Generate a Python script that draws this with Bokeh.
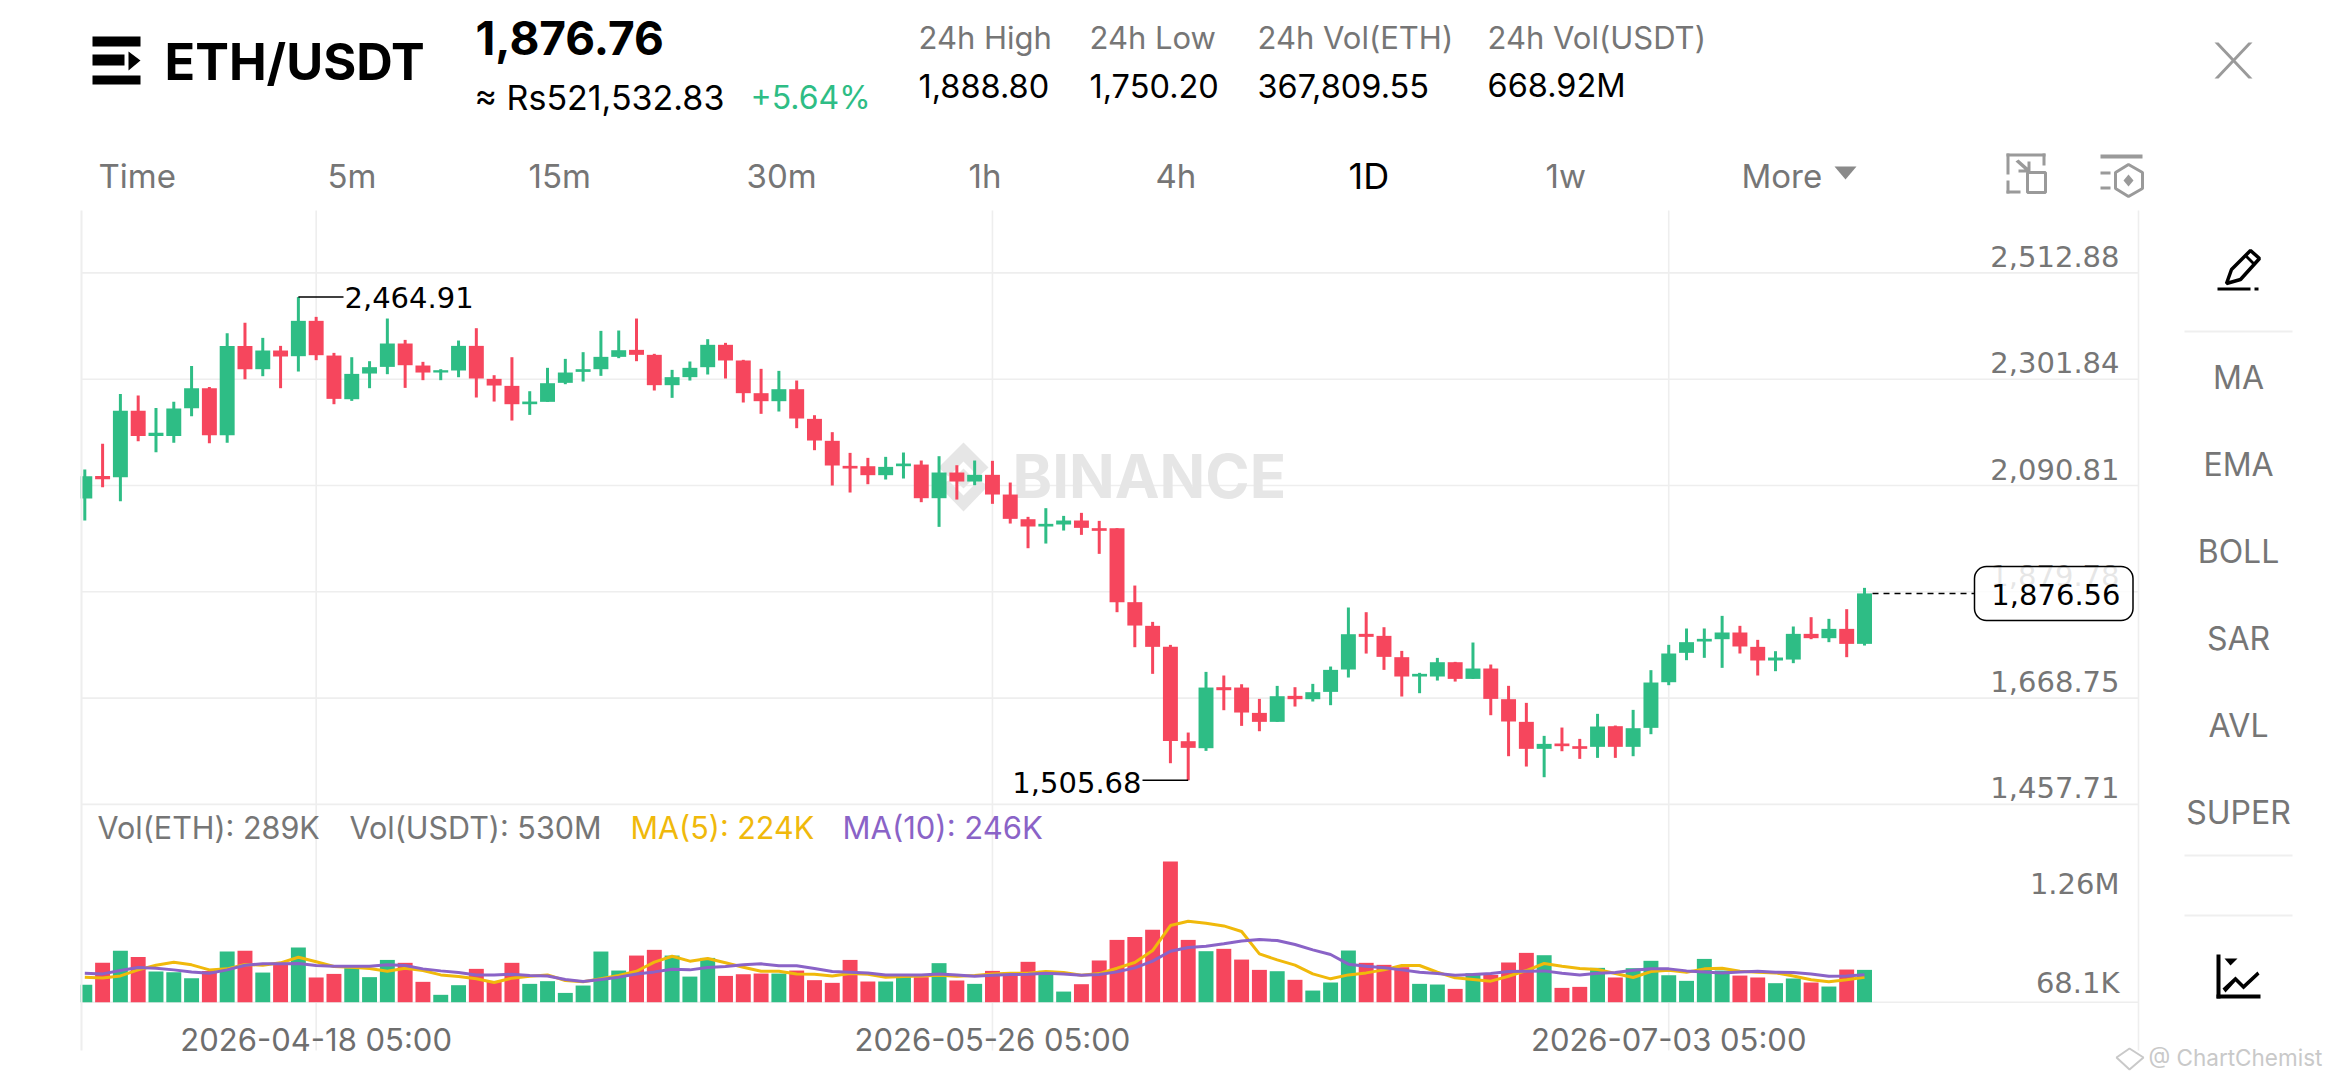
from bokeh.embed import file_html
from bokeh.resources import INLINE
from bokeh.plotting import figure
from bokeh.models import (ColumnDataSource, LinearAxis, Range1d, FixedTicker, Label,
                          PolyAnnotation, BoxAnnotation)

# ---------- data ----------
opens = [2064.9,2109.9,2107.3,2239.0,2189.3,2189.3,2244.3,2284.0,2190.7,2368.0,2321.7,2358.8,2347.5,2417.7,2348.8,2262.1,2313.1,2326.3,2372.7,2329.0,2315.1,2319.1,2368.0,2302.5,2288.6,2252.2,2256.9,2294.6,
 2316.4,2321.7,2346.2,2360.1,2350.2,2290.0,2305.9,2325.7,2370.1,2339.0,2274.1,2258.2,2282.0,2223.1,2179.5,2129.8,2129.1,2111.3,2129.1,2132.4,2065.6,2116.6,2098.7,2112.0,2072.9,2023.9,2009.4,2013.4,2021.3,2006.1,
 2006.1,1859.2,1812.2,1770.5,1583.2,1569.3,1690.4,1689.7,1639.4,1621.6,1673.2,1666.6,1681.1,1725.5,1796.3,1792.3,1750.0,1711.6,1711.6,1740.0,1706.9,1727.5,
 1666.6,1621.6,1568.0,1578.6,1573.3,1572.0,1613.0,1572.0,1609.7,1700.3,1758.6,1781.1,1785.7,1799.0,1770.5,1743.4,1745.3,1796.3,1787.7,1806.2,1776.4]
highs = [2122.5,2173.5,2272.7,2269.4,2244.9,2256.9,2328.3,2286.6,2393.2,2413.7,2383.9,2368.0,2464.91,2425.6,2354.1,2345.5,2337.6,2422.3,2379.9,2336.3,2321.7,2378.6,2403.1,2309.8,2345.5,2278.0,2324.4,2342.2,
 2355.5,2397.8,2398.5,2422.3,2352.2,2320.4,2337.0,2381.3,2374.0,2340.3,2322.4,2318.4,2299.2,2230.4,2196.7,2155.6,2145.7,2147.7,2156.3,2140.4,2149.0,2131.1,2140.4,2139.8,2096.7,2028.6,2045.8,2030.5,2036.5,2020.6,
 2006.1,1892.2,1820.1,1774.4,1600.4,1720.8,1713.6,1696.3,1667.2,1693.0,1690.4,1697.0,1731.4,1848.6,1839.3,1809.5,1762.5,1718.9,1748.6,1740.7,1779.1,1735.4,
 1693.1,1659.3,1593.8,1610.3,1587.8,1637.5,1614.3,1645.4,1724.2,1774.5,1806.9,1806.9,1832.0,1812.2,1784.4,1761.9,1810.9,1829.4,1826.1,1845.3,1887.6]
lows = [2021.2,2087.4,2059.6,2178.8,2156.9,2175.5,2228.4,2174.8,2175.5,2301.9,2307.8,2284.0,2317.1,2339.6,2252.2,2258.8,2284.0,2311.8,2284.6,2299.9,2299.9,2305.8,2265.5,2257.5,2219.8,2231.0,2256.9,2291.9,
 2297.2,2308.5,2343.6,2337.6,2279.4,2264.8,2299.2,2311.2,2303.2,2255.6,2233.1,2237.7,2204.6,2160.9,2090.8,2076.9,2093.4,2102.7,2104.7,2057.7,2008.7,2062.9,2091.4,2054.4,2015.3,1966.3,1975.6,2001.4,1992.8,1955.1,
 1839.3,1769.8,1716.9,1539.5,1505.68,1564.0,1644.7,1613.6,1603.0,1621.6,1652.0,1662.0,1654.7,1709.6,1757.2,1724.8,1671.9,1678.5,1703.6,1701.6,1706.9,1634.8,
 1553.4,1532.9,1511.7,1563.3,1548.1,1550.1,1550.1,1553.4,1597.1,1694.4,1744.0,1748.7,1728.8,1757.3,1713.6,1722.2,1738.1,1785.7,1779.8,1750.0,1773.1]
closes = [2109.3,2103.3,2239.0,2189.3,2195.3,2243.6,2284.0,2190.7,2368.0,2321.7,2358.8,2346.9,2417.7,2349.5,2262.8,2312.4,2325.7,2372.7,2329.6,2315.1,2319.7,2368.0,2303.2,2289.3,2252.2,2257.5,2293.9,2315.1,
 2321.7,2346.2,2359.4,2350.2,2290.0,2305.9,2324.4,2370.1,2339.0,2274.1,2258.2,2282.0,2223.8,2180.1,2130.5,2124.5,2111.3,2127.8,2134.4,2065.6,2116.6,2098.7,2112.0,2072.9,2024.6,2009.4,2014.7,2021.3,2006.7,2000.8,
 1859.2,1812.8,1770.5,1583.8,1570.0,1689.7,1684.4,1640.1,1621.6,1672.5,1666.6,1680.5,1724.8,1795.6,1790.3,1750.6,1711.6,1716.9,1740.0,1706.9,1727.5,1667.2,
 1622.3,1568.0,1577.9,1573.3,1568.0,1612.3,1572.0,1609.0,1699.7,1757.3,1779.8,1786.4,1799.0,1771.2,1743.4,1749.3,1796.3,1787.7,1806.2,1776.4,1876.56]
volumes_k = [155,352,459,405,274,268,215,280,453,459,265,343,489,221,253,304,224,378,352,182,66,152,298,190,352,164,188,83,149,453,283,417,468,
 417,229,396,235,250,256,256,283,197,173,378,185,185,224,224,349,194,164,280,262,361,280,95,161,373,557,584,647,1258,557,456,477,381,289,
 277,200,104,176,462,352,334,313,164,158,119,259,244,355,441,420,128,137,307,221,304,370,241,191,387,283,238,221,170,212,176,140,292,289]
ma5_k = [223,217,235,289,331,358,334,289,298,337,331,352,402,361,319,313,301,277,304,283,244,229,209,176,215,232,244,194,182,209,238,277,358,
 411,367,390,352,313,277,277,253,250,235,256,250,223,229,235,241,232,238,253,259,259,274,265,241,256,304,355,462,685,724,706,682,632,432,
 378,331,253,209,244,262,289,328,328,268,218,203,188,232,283,346,322,301,292,256,221,274,286,268,298,304,277,268,262,235,200,182,200,224]
ma10_k = [259,253,283,310,304,289,271,259,289,331,343,343,346,328,322,322,322,334,328,298,280,265,244,244,250,238,235,203,185,203,224,253,271,
 295,289,310,319,334,343,325,325,301,274,268,262,244,244,244,253,244,232,241,247,250,259,253,241,247,271,307,367,456,489,501,522,548,560,
 551,516,468,426,340,322,307,289,268,256,241,247,256,274,277,280,259,244,259,265,286,298,298,280,271,262,271,277,268,265,253,232,235,246]
price_ticks = [2512.88, 2301.84, 2090.81, 1879.78, 1668.75, 1457.71]
vol_ticks = [68100, 1260000]
vol_tick_labels = ["68.1K", "1.26M"]
date_ticks = [13, 51, 89]
date_labels = ["2026-04-18 05:00", "2026-05-26 05:00", "2026-07-03 05:00"]
high_price, low_price, last_price = 2464.91, 1505.68, 1876.56

GREEN, RED, YEL, PUR = "#2EBD85", "#F6465D", "#F0B90B", "#8A63C7"
GREY, GRID = "#767676", "#eeeeee"
FONT = "Inter"
NUM = "DejaVu Sans"

# ---------- layout constants (reference pixels) ----------
W, H = 2336, 1076
FL, FR, FT, FB = 81, 2138, 210, 1050
X0, DX = 84.3, 17.797
Y_REF, PX_PRICE = 272.4, 211.03 / 106.3
VOL_BASE, PX_VOL = 1001.7, 8940.0
price_at = lambda y: price_ticks[0] - (y - Y_REF) * PX_PRICE
idx_at = lambda x: (x - X0) / DX
vol_at = lambda y: (VOL_BASE - y) * PX_VOL

p = figure(width=W, height=H, output_backend="svg", toolbar_location=None,
           x_axis_type=None, y_axis_type=None,
           x_range=Range1d(idx_at(0), idx_at(W)),
           y_range=Range1d(price_at(H), price_at(0)),
           min_border_left=0, min_border_right=0, min_border_top=0, min_border_bottom=0,
           outline_line_color=None, background_fill_color="white", border_fill_color="white")

LBL = 16.5
p.extra_y_ranges = {
    "vol": Range1d(vol_at(H), vol_at(0)),
    "price_lbl": Range1d(price_at(H) - LBL * PX_PRICE, price_at(0) - LBL * PX_PRICE),
    "vol_lbl": Range1d(68100 - (H - 982.6) * 12087, 68100 + 982.6 * 12087),
}

# grid rules, limited to the chart area
xa, xb = idx_at(FL), idx_at(FR)
ya, yb = price_at(FB), price_at(FT)
vr = date_ticks + [xb]
p.segment(vr, [ya] * len(vr), vr, [yb] * len(vr), color=GRID, line_width=1.6, level="underlay")
p.segment([xa] * len(price_ticks), price_ticks, [xb] * len(price_ticks), price_ticks,
          color=GRID, line_width=1.6, level="underlay")
p.segment([xa], [0], [xb], [0], color=GRID, line_width=1.6, level="underlay", y_range_name="vol")


def lx(x):
    return x


def ly(y):
    return H - y


def text(x, y, s, size=30, color="black", bold=False, align="left", font=FONT, level="annotation"):
    p.add_layout(Label(x=lx(x), y=ly(y), x_units="screen", y_units="screen", text=s,
                       text_font=font, text_font_size=f"{size}px", text_color=color,
                       text_font_style="bold" if bold else "normal", text_align=align,
                       text_baseline="middle", level=level))


def poly(pts, fill="black", line=None, lw=1, level="annotation"):
    p.add_layout(PolyAnnotation(xs=[lx(a) for a, _ in pts], ys=[ly(b) for _, b in pts],
                                xs_units="screen", ys_units="screen", fill_color=fill,
                                fill_alpha=1 if fill else 0, line_color=line, line_alpha=1, line_width=lw,
                                level=level, editable=False))


def rect(x0, y0, x1, y1, fill="black", level="annotation"):
    poly([(x0, y0), (x1, y0), (x1, y1), (x0, y1)], fill=fill, level=level)


# watermark under the candles
WM = "#e6e6e6"
poly([(963, 442), (988, 467), (978, 476), (963, 461), (948, 476), (938, 467)], fill=WM, level="underlay")
poly([(963, 468), (973, 478), (963, 488), (953, 478)], fill=WM, level="underlay")
poly([(938, 485), (948, 480), (963, 495), (978, 480), (988, 485), (963, 511)], fill=WM, level="underlay")
text(1012, 475, "BINANCE", size=60, color=WM, bold=True, level="underlay")

# candles
x = list(range(len(closes)))
colors = [GREEN if c >= o else RED for o, c in zip(opens, closes)]
src = ColumnDataSource(dict(x=x, o=opens, h=highs, l=lows, c=closes, color=colors,
                            top=[max(a, b) for a, b in zip(opens, closes)],
                            bot=[min(a, b) for a, b in zip(opens, closes)],
                            vol=[v * 1000 for v in volumes_k],
                            ma5=[v * 1000 for v in ma5_k], ma10=[v * 1000 for v in ma10_k]))
p.segment("x", "h", "x", "l", source=src, color="color", line_width=3)
p.vbar("x", 0.84, "top", "bot", source=src, fill_color="color", line_color=None)

# volume
p.vbar("x", 0.84, "vol", 0, source=src, fill_color="color", line_color=None, y_range_name="vol")
p.line("x", "ma5", source=src, color=YEL, line_width=3, y_range_name="vol")
p.line("x", "ma10", source=src, color=PUR, line_width=3, y_range_name="vol")

# mask what falls left of the chart area, then the chart's left edge
rect(60, 205, FL - 1, 1012, "white")
rect(FL - 1, FT, FL + 1, FB, GRID)

# axes drawn inside the chart area
loc_x = idx_at(2125)
ax = LinearAxis(y_range_name="price_lbl", ticker=FixedTicker(ticks=price_ticks),
                major_label_overrides={t: f"{t:,.2f}" for t in price_ticks},
                fixed_location=loc_x, axis_line_color=None, major_tick_line_color=None,
                minor_tick_line_color=None, major_label_standoff=0,
                major_label_text_font=NUM, major_label_text_font_size="29px",
                major_label_text_color=GREY)
p.add_layout(ax, "left")
ax2 = LinearAxis(y_range_name="vol_lbl", ticker=FixedTicker(ticks=vol_ticks),
                 major_label_overrides=dict(zip(vol_ticks, vol_tick_labels)),
                 fixed_location=loc_x, axis_line_color=None, major_tick_line_color=None,
                 minor_tick_line_color=None, major_label_standoff=0,
                 major_label_text_font=NUM, major_label_text_font_size="29px",
                 major_label_text_color=GREY)
p.add_layout(ax2, "left")
ax3 = LinearAxis(ticker=FixedTicker(ticks=date_ticks),
                 major_label_overrides=dict(zip(date_ticks, date_labels)),
                 fixed_location=price_at(1014), axis_line_color=None, major_tick_line_color=None,
                 minor_tick_line_color=None, major_label_standoff=0,
                 major_label_text_font=FONT, major_label_text_font_size="31px",
                 major_label_text_color="#6e6e6e")
p.add_layout(ax3, "below")

# high / low markers
hi_i, lo_i = highs.index(high_price), lows.index(low_price)
p.segment([hi_i], [high_price], [idx_at(343)], [high_price], color="black", line_width=1.5)
p.segment([lo_i], [low_price], [idx_at(1142)], [low_price], color="black", line_width=1.5)
p.add_layout(Label(x=idx_at(344), y=high_price, text=f"{high_price:,.2f}", text_font=NUM, text_font_size="29px",
                   text_color="black", text_baseline="middle"))
p.add_layout(Label(x=idx_at(1141), y=low_price - 2 * PX_PRICE, text=f"{low_price:,.2f}", text_font=NUM,
                   text_font_size="29px", text_color="black", text_align="right", text_baseline="middle"))

# last price tag
p.segment([len(x) - 1 + 0.45], [last_price], [idx_at(1974)], [last_price], color="black", line_width=1.5, line_dash="6 5")
p.add_layout(BoxAnnotation(left=lx(1974), right=lx(2132.5), top=ly(566), bottom=ly(620),
                           left_units="screen", right_units="screen", top_units="screen", bottom_units="screen",
                           fill_color="white", fill_alpha=0.82, line_color="black", line_alpha=1, line_width=1.5,
                           border_radius=12, editable=False))
text(2120, 594, f"{last_price:,.2f}", size=29, align="right", font=NUM)

# volume legend
text(97, 827, "Vol(ETH): 289K", size=30.5, color=GREY)
text(349, 827, "Vol(USDT): 530M", size=30.5, color=GREY)
text(630, 827, "MA(5): 224K", size=30.5, color=YEL)
text(842, 827, "MA(10): 246K", size=31, color=PUR)

# header
rect(92, 36, 140, 46)
rect(92, 75, 140, 84)
rect(92, 54, 124, 65)
poly([(128, 51), (140, 60), (128, 70)])
text(164, 61, "ETH/USDT", size=50.5, bold=True)
text(475, 37, "1,876.76", size=46, bold=True)
text(474, 97, "≈ Rs521,532.83", size=34)
text(750, 97, "+5.64%", size=32, color=GREEN)
for lx0, a, b in [(918, "24h High", "1,888.80"), (1089, "24h Low", "1,750.20"),
                  (1257, "24h Vol(ETH)", "367,809.55"), (1487, "24h Vol(USDT)", "668.92M")]:
    text(lx0, 37, a, size=31, color=GREY)
    text(lx0, 85, b, size=32.5)
for a, b, c in [(2216, 44, 2250), (2250, 44, 2216)]:
    poly([(a - 2, b - 2), (a + 2, b - 2), (c + 2, 78), (c - 2, 78)], fill="#9a9a9a")

# period tabs
for tx, s in [(98, "Time"), (327, "5m"), (528, "15m"), (746, "30m"), (968, "1h"), (1155, "4h"), (1545, "1w"), (1741, "More")]:
    text(tx, 175, s, size=33, color=GREY)
text(1348, 175, "1D", size=36, bold=False)
poly([(1834, 166), (1856, 166), (1845, 179)], fill="#8a8a8a")
IC = "#9a9a9a"
rect(2006, 153, 2045, 156, IC)
rect(2006, 153, 2009, 174, IC)
rect(2042, 153, 2045, 165, IC)
rect(2006, 190, 2020, 193, IC)
rect(2006, 180, 2009, 193, IC)
poly([(2027, 172), (2045, 172), (2045, 192), (2027, 192)], fill=None, line=IC, lw=3)
poly([(2015, 161), (2018, 159), (2027, 167), (2027, 161), (2030, 161), (2030, 172), (2018, 172), (2018, 169), (2024, 169)], fill=IC)
rect(2100, 154, 2142, 158, IC)
rect(2100, 171, 2110, 174, IC)
rect(2100, 186, 2110, 189, IC)
poly([(2128, 164), (2142, 172), (2142, 188), (2128, 196), (2115, 188), (2115, 172)], fill=None, line=IC, lw=3)
poly([(2128, 174), (2133, 180), (2128, 186), (2123, 180)], fill=IC)

# side bar
poly([(2231, 269), (2250, 250), (2259, 258), (2240, 279), (2226, 283)], fill=None, line="black", lw=3.5)
poly([(2244, 256), (2246, 254), (2255, 263), (2253, 265)], fill="black")
rect(2217, 287, 2250, 290)
rect(2254, 287, 2258, 290)
for y0 in (331, 855, 915):
    rect(2184, y0 - 1, 2292, y0 + 1, "#efefef")
for yc, s in [(377, "MA"), (464, "EMA"), (551, "BOLL"), (638, "SAR"), (725, "AVL"), (812, "SUPER")]:
    text(2238, yc, s, size=32, color=GREY, align="center")
rect(2216, 954, 2220, 998)
rect(2216, 994, 2260, 998)
poly([(2224, 958), (2237, 958), (2230, 965)])
poly([(2222, 988), (2235, 976), (2243, 984), (2257, 971), (2259, 974), (2243, 989), (2235, 981), (2225, 992)])

# corner credit
WC = "#c9c9c9"
poly([(2129, 1048), (2143, 1057), (2129, 1069), (2116, 1057)], fill=None, line=WC, lw=2)
text(2148, 1057, "@ ChartChemist", size=22.5, color=WC)

open("out.html", "w").write(file_html(p, INLINE))
